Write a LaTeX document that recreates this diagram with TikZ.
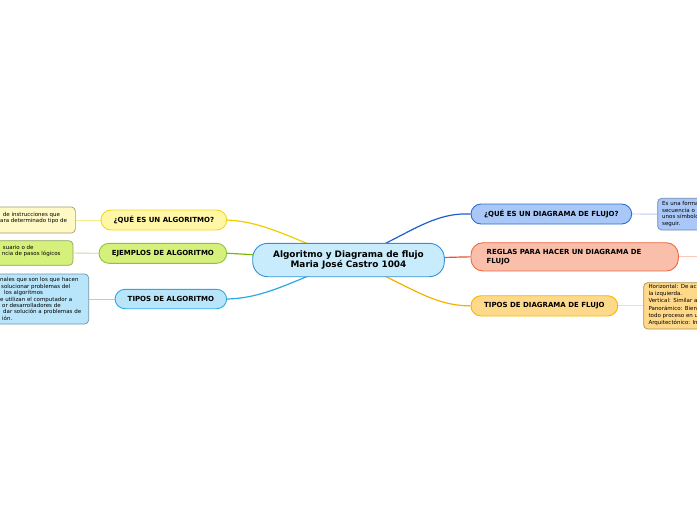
\documentclass[tikz,border=0pt]{standalone}
\usepackage{fontspec}
\setmainfont{DejaVu Sans}
\usetikzlibrary{backgrounds}
\definecolor{cfill}{HTML}{C8ECFB}\definecolor{cdraw}{HTML}{3591D6}
\definecolor{yfill}{HTML}{FFF6A6}\definecolor{ydraw}{HTML}{F2D61E}\definecolor{yconn}{HTML}{F0CC00}
\definecolor{ylfill}{HTML}{FFF9C6}\definecolor{yldraw}{HTML}{A39B6C}\definecolor{ylconn}{HTML}{F7E98A}
\definecolor{gfill}{HTML}{D6F07C}\definecolor{gdraw}{HTML}{8CC43A}\definecolor{gconn}{HTML}{7CB800}
\definecolor{gldraw}{HTML}{8FA465}\definecolor{glconn}{HTML}{C4DE90}
\definecolor{bfill}{HTML}{B8E5FA}\definecolor{bdraw}{HTML}{2AA8E6}\definecolor{bconn}{HTML}{2AA8E6}
\definecolor{bldraw}{HTML}{6F93AA}\definecolor{blconn}{HTML}{9ED4F0}
\definecolor{rbfill}{HTML}{A9C8F7}\definecolor{rbdraw}{HTML}{2E6DD8}\definecolor{rbconn}{HTML}{1E5ECF}
\definecolor{rbldraw}{HTML}{6F88B0}\definecolor{rblconn}{HTML}{B4CCF2}
\definecolor{rfill}{HTML}{F9BFAA}\definecolor{rdraw}{HTML}{EE6A45}\definecolor{rconn}{HTML}{E8532C}
\definecolor{rlconn}{HTML}{F8C8B8}
\definecolor{ofill}{HTML}{FFD98A}\definecolor{odraw}{HTML}{F5B800}\definecolor{oconn}{HTML}{F5B000}
\definecolor{oldraw}{HTML}{B09252}\definecolor{olconn}{HTML}{FBE0A4}
\begin{document}
\begin{tikzpicture}[x=1pt,y=-1pt,
  cat/.style={draw, line width=0.9pt, rounded corners=10pt, font=\fontsize{7}{9.4}\selectfont\bfseries, inner sep=0pt, minimum height=20pt},
  leafbox/.style={draw, line width=0.7pt, rounded corners=4pt, inner sep=0pt},
  ltext/.style={font=\fontsize{5.5}{6.4}\selectfont, align=left, inner sep=0pt, anchor=north west},
  conn/.style={line width=1.2pt},
  lconn/.style={line width=0.9pt}]
\useasboundingbox (0,0) rectangle (697,520);
\clip (0,0) rectangle (697,520);
% central node
\node[draw=cdraw, fill=cfill, line width=0.9pt, rounded corners=15pt, minimum width=191.6pt, minimum height=33.4pt, inner sep=0pt, align=center, font=\fontsize{8.9}{10.7}\selectfont\bfseries] (c) at (348.5,260) {Algoritmo y Diagrama de flujo\\Maria José Castro 1004};
% left categories
\node[cat, fill=yfill, draw=ydraw, minimum width=125.7pt] (qa) at (163.85,220) {¿QUÉ ES UN ALGORITMO?};
\node[cat, fill=gfill, draw=gdraw, minimum width=127.7pt] (eg) at (162.85,253.3) {EJEMPLOS DE ALGORITMO};
\node[cat, fill=bfill, draw=bdraw, minimum width=111.7pt, minimum height=19.4pt] (tb) at (170.85,299) {TIPOS DE ALGORITMO};
% right categories
\node[cat, fill=rbfill, draw=rbdraw, minimum width=160.7pt] (rq) at (551.35,214) {¿QUÉ ES UN DIAGRAMA DE FLUJO?};
\node[cat, fill=rfill, draw=rdraw, minimum height=28.3pt, text width=176pt, inner xsep=15.65pt, align=left, rounded corners=12pt] (rr) at (574.65,256.85) {REGLAS PARA HACER UN DIAGRAMA DE\\FLUJO};
\node[cat, fill=ofill, draw=odraw, minimum width=146.7pt, minimum height=20.3pt] (ro) at (544.35,305.85) {TIPOS DE DIAGRAMA DE FLUJO};
% left leaves
\node[leafbox, fill=ylfill, draw=yldraw, minimum width=100pt, minimum height=26pt, anchor=east] (l1) at (75.7,220) {};
\node[ltext] (l1t) at (0,212.2) {\hspace*{2.7pt}de instrucciones que\\ara determinado tipo de};
\node[leafbox, fill=gfill, draw=gldraw, minimum width=100pt, minimum height=24.6pt, anchor=east] (l2) at (73.3,253) {};
\node[ltext] (l2t) at (0,244.8) {\hspace*{2.7pt}suario o de\\\hspace*{1.7pt}ncia de pasos lógicos};
\node[leafbox, fill=bfill, draw=bldraw, minimum width=110pt, minimum height=50pt, anchor=east] (l3) at (89,299) {};
\node[ltext] (l3t) at (0,277.5) {nales que son los que hacen\\\hspace*{1pt}solucionar problemas del\\\hspace*{4pt}los algoritmos\\e utilizan el computador a\\\hspace*{2pt}or desarrolladores de\\\hspace*{3pt}dar solución a problemas de\\\hspace*{2pt}ión.};
% right leaves
\node[leafbox, fill=rbfill, draw=rbldraw, minimum width=100pt, minimum height=31.7pt, anchor=west] (r1) at (657.3,214.15) {};
\node[ltext] (r1t) at (662,201.5) {Es una forma\\secuencia o l\\unos símbolo\\seguir.};
\node[leafbox, fill=ofill, draw=oldraw, minimum width=100pt, minimum height=46.3pt, anchor=west] (r3) at (643.3,305.85) {};
\node[ltext, font=\fontsize{5.5}{7.2}\selectfont] (r3t) at (648.3,284.2) {Horizontal: De ac\\la izquierda.\\Vertical: Similar a\\Panorámico: Bien\\todo proceso en u\\Arquitectónico: In};
\coordinate (rrend) at (705,256.85);
% connectors
\begin{scope}[on background layer]
\draw[conn, draw=yconn] (qa.east) .. controls (265,222) and (290,238) .. (c.center);
\draw[conn, draw=gconn] (eg.east) .. controls (245,254) and (300,258) .. (c.center);
\draw[conn, draw=bconn] (tb.east) .. controls (265,298) and (290,282) .. (c.center);
\draw[conn, draw=rbconn] (rq.west) .. controls (430,212) and (405,238) .. (c.center);
\draw[conn, draw=rconn] (rr.west) .. controls (455,257) and (400,259) .. (c.center);
\draw[conn, draw=oconn] (ro.west) .. controls (430,306) and (405,282) .. (c.center);
\draw[lconn, draw=ylconn] (qa.west) -- (l1.east);
\draw[lconn, draw=glconn] (eg.west) -- (l2.east);
\draw[lconn, draw=blconn] (tb.west) -- (l3.east);
\draw[lconn, draw=rblconn] (rq.east) -- (r1.west);
\draw[lconn, draw=rlconn] (rr.east) -- (rrend);
\draw[lconn, draw=olconn] (ro.east) -- (r3.west);
\end{scope}
\end{tikzpicture}
\end{document}
